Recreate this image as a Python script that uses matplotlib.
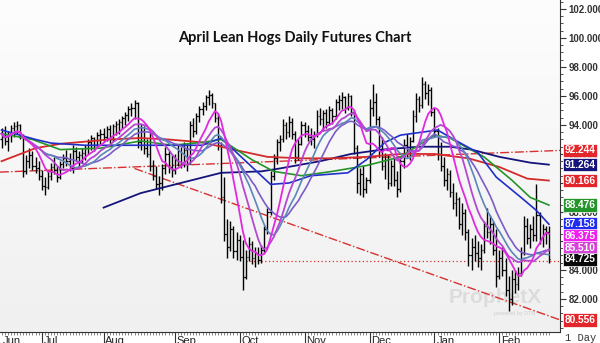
import numpy as np
import pandas as pd
import matplotlib
matplotlib.use("Agg")
import matplotlib.pyplot as plt
import matplotlib.transforms as mtransforms

# daily OHLC bars, one entry per trading day
opens = [93.0, 93.4, 92.9, 93.3, 93.8, 93.9, 94.0, 93.2, 90.8, 91.5, 91.9, 91.2, 91.0, 90.5, 89.8,
         89.7, 90.5, 91.1, 90.9, 90.4, 91.3, 91.7, 91.5, 91.0, 92.2, 91.8, 91.9, 92.1, 92.4, 92.8,
         93.1, 92.6, 93.3, 93.4, 93.2, 93.7, 93.0, 93.9, 94.1, 94.2, 94.5, 94.7, 95.1, 95.2, 95.5,
         92.8, 93.6, 92.4, 92.0, 91.2, 90.5, 89.9, 90.0, 91.0, 92.0, 91.1, 90.9, 91.6, 92.2, 91.4,
         92.3, 91.3, 94.0, 93.6, 94.6, 95.1, 95.3, 95.9, 96.1, 95.5, 94.5, 92.6, 89.0, 86.5, 85.6,
         86.8, 85.3, 86.1, 84.9, 83.5, 84.9, 85.8, 84.8, 85.2, 84.7, 85.4, 86.8, 88.0, 90.5, 91.7,
         92.8, 93.0, 94.0, 93.5, 94.2, 93.4, 91.8, 92.7, 94.0, 93.6, 93.2, 93.0, 93.3, 94.6, 94.4,
         94.8, 94.2, 95.0, 94.6, 95.6, 95.7, 95.9, 95.2, 96.0, 94.9, 92.4, 90.0, 90.6, 89.6, 90.2,
         95.2, 95.6, 94.4, 92.3, 91.2, 91.6, 90.0, 91.2, 90.2, 89.6, 91.5, 92.6, 92.2, 92.9, 94.6,
         95.8, 95.4, 96.8, 96.2, 96.4, 94.9, 93.6, 92.0, 91.2, 90.2, 90.6, 89.4, 88.6, 88.9, 87.2,
         87.9, 86.6, 85.0, 85.6, 85.2, 84.8, 85.4, 87.0, 86.6, 87.2, 85.4, 83.6, 84.8, 84.0, 82.6,
         82.0, 83.4, 83.0, 83.8, 85.2, 87.0, 86.2, 86.8, 86.4, 87.8, 86.2, 86.8, 86.6]
highs = [93.8, 93.9, 93.6, 94.0, 94.2, 94.3, 94.1, 93.4, 91.9, 92.4, 92.2, 91.8, 91.5, 90.9, 90.4,
         90.8, 91.4, 91.8, 91.2, 91.5, 92.0, 92.3, 92.1, 92.6, 92.5, 92.2, 92.4, 92.6, 93.0, 93.3,
         93.2, 93.5, 93.7, 93.8, 93.9, 94.0, 94.1, 94.3, 94.4, 94.6, 94.9, 95.3, 95.5, 95.7, 95.6,
         94.1, 93.9, 93.0, 93.5, 91.6, 91.2, 90.5, 91.3, 92.5, 92.2, 91.9, 92.0, 92.6, 92.5, 92.8,
         92.7, 94.3, 94.5, 94.8, 95.3, 95.6, 96.1, 96.4, 96.2, 95.5, 94.8, 92.8, 90.4, 87.5, 87.4,
         87.0, 86.6, 86.4, 86.1, 85.4, 86.3, 86.0, 85.6, 85.6, 85.7, 87.0, 88.3, 90.8, 92.0, 93.0,
         93.3, 94.4, 94.2, 94.6, 94.5, 93.6, 93.0, 94.3, 94.2, 94.0, 93.8, 93.6, 95.0, 95.2, 95.0,
         95.1, 95.3, 95.2, 95.8, 96.1, 96.3, 96.0, 96.2, 96.1, 95.0, 92.6, 91.0, 91.2, 90.4, 95.8,
         96.8, 96.2, 94.6, 93.2, 92.1, 91.9, 91.6, 91.8, 90.8, 91.8, 93.0, 93.4, 93.2, 95.0, 96.2,
         96.0, 97.3, 97.0, 96.8, 96.6, 95.2, 93.8, 92.8, 91.8, 91.0, 90.9, 90.0, 89.4, 89.0, 88.6,
         88.2, 86.8, 86.2, 86.4, 86.0, 85.8, 87.4, 88.3, 87.8, 87.4, 86.8, 85.4, 85.6, 84.8, 83.6,
         84.0, 84.0, 84.2, 85.6, 87.7, 87.6, 87.2, 87.7, 89.9, 88.0, 87.2, 87.0, 87.0]
lows = [92.4, 92.6, 92.2, 92.8, 93.2, 93.4, 93.0, 90.4, 90.6, 91.0, 90.9, 90.7, 90.2, 89.5, 89.2,
        89.6, 90.2, 90.6, 90.1, 90.3, 91.0, 91.2, 90.8, 90.7, 91.5, 91.2, 91.4, 91.6, 92.0, 92.3,
        92.2, 92.5, 92.7, 92.8, 92.9, 92.6, 92.9, 93.3, 93.4, 93.7, 94.0, 94.3, 94.6, 94.4, 92.4,
        92.3, 92.0, 91.8, 90.8, 90.2, 89.6, 89.2, 89.5, 90.6, 90.7, 90.4, 90.6, 91.2, 91.0, 91.1,
        90.8, 91.3, 93.2, 93.4, 94.2, 94.7, 95.0, 95.4, 95.2, 94.2, 92.3, 88.6, 86.0, 84.8, 85.3,
        84.8, 84.7, 84.6, 82.6, 83.4, 84.6, 84.4, 84.2, 84.4, 84.5, 85.2, 86.5, 87.8, 90.2, 91.3,
        92.2, 92.8, 93.0, 93.2, 93.0, 91.4, 91.6, 92.6, 93.2, 92.9, 92.6, 92.4, 93.2, 94.0, 93.6,
        93.8, 94.0, 94.1, 94.4, 95.0, 95.1, 94.8, 95.0, 94.6, 92.0, 89.3, 89.2, 89.0, 89.3, 90.0,
        94.6, 94.0, 91.8, 90.9, 90.3, 89.6, 89.8, 89.8, 89.0, 89.4, 91.0, 91.8, 91.6, 92.8, 94.2,
        94.9, 95.2, 95.8, 95.4, 94.6, 93.2, 91.6, 90.8, 89.8, 89.5, 89.0, 88.2, 87.7, 86.8, 86.4,
        86.1, 84.3, 84.0, 84.6, 84.2, 84.0, 85.2, 86.2, 85.8, 85.0, 82.8, 83.4, 83.6, 82.2, 81.2,
        81.6, 82.4, 82.6, 83.6, 85.0, 85.8, 85.5, 86.0, 86.0, 85.8, 85.6, 85.8, 84.5]
closes = [93.4, 92.9, 93.3, 93.8, 93.9, 94.0, 93.2, 90.8, 91.5, 91.9, 91.2, 91.0, 90.5, 89.8, 89.7,
          90.5, 91.1, 90.9, 90.4, 91.3, 91.7, 91.5, 91.0, 92.2, 91.8, 91.9, 92.1, 92.4, 92.8, 93.1,
          92.6, 93.3, 93.4, 93.2, 93.7, 93.0, 93.9, 94.1, 94.2, 94.5, 94.7, 95.1, 95.2, 95.5, 92.8,
          93.6, 92.4, 92.0, 91.2, 90.5, 89.9, 90.0, 91.0, 92.0, 91.1, 90.9, 91.6, 92.2, 91.4, 92.3,
          91.3, 94.0, 93.6, 94.6, 95.1, 95.3, 95.9, 96.1, 95.5, 94.5, 92.6, 89.0, 86.5, 85.6, 86.8,
          85.3, 86.1, 84.9, 83.5, 84.9, 85.8, 84.8, 85.2, 84.7, 85.4, 86.8, 88.0, 90.5, 91.7, 92.8,
          93.0, 94.0, 93.5, 94.2, 93.4, 91.8, 92.7, 94.0, 93.6, 93.2, 93.0, 93.3, 94.6, 94.4, 94.8,
          94.2, 95.0, 94.6, 95.6, 95.7, 95.9, 95.2, 96.0, 94.9, 92.4, 90.0, 90.6, 89.6, 90.2, 95.2,
          95.6, 94.4, 92.3, 91.2, 91.6, 90.0, 91.2, 90.2, 89.6, 91.5, 92.6, 92.2, 92.9, 94.6, 95.8,
          95.4, 96.8, 96.2, 96.4, 94.9, 93.6, 92.0, 91.2, 90.2, 90.6, 89.4, 88.6, 88.9, 87.2, 87.9,
          86.6, 85.0, 85.6, 85.2, 84.8, 85.4, 87.0, 86.6, 87.2, 85.4, 83.6, 84.8, 84.0, 82.6, 82.0,
          83.4, 83.0, 83.8, 85.2, 87.0, 86.2, 86.8, 86.4, 87.8, 86.2, 86.8, 86.6, 84.725]

# slow averages (they reach back before the chart), read at sample bars
navy_x = [33, 45, 58, 71, 84, 90, 103, 113, 123, 135, 145, 152, 161, 171, 177]
navy_y = [88.3, 89.3, 90.0, 90.7, 90.8, 91.0, 91.5, 92.0, 92.3, 92.5, 92.5, 92.3, 91.8, 91.4, 91.264]
red_x = [0, 11, 19, 35, 45, 54, 65, 75, 86, 97, 107, 118, 129, 140, 151, 161, 170, 177]
red_y = [91.5, 92.4, 92.7, 93.0, 93.1, 93.0, 92.8, 92.3, 91.8, 91.7, 91.7, 91.8, 92.0, 92.0, 91.7,
         91.1, 90.3, 90.166]
green_x = [0, 10, 19, 32, 45, 55, 65, 71, 81, 88, 97, 107, 118, 129, 140, 145, 156, 165, 171, 177]
green_y = [93.4, 93.0, 92.3, 92.4, 92.9, 92.6, 92.8, 93.0, 91.6, 90.8, 90.5, 90.8, 91.2, 91.8, 93.3,
           93.1, 91.8, 90.2, 89.0, 88.476]
blue_x = [0, 11, 16, 27, 45, 65, 71, 81, 87, 93, 100, 112, 118, 124, 129, 141, 148, 154, 160, 168,
          173, 177]
blue_y = [93.65, 93.0, 92.75, 92.6, 92.6, 92.6, 93.1, 91.1, 89.9, 90.0, 90.5, 90.7, 91.6, 92.8, 93.3,
          93.65, 92.8, 92.1, 90.4, 89.0, 88.1, 87.158]

# trend lines and support
trend_up_x = [-0.5, 180.6]
trend_up_y = [90.75, 92.244]
trend_dn_x = [43, 180.6]
trend_dn_y = [91.0, 80.556]
support_x = [79, 180.6]
support_y = [84.6, 84.6]

months = ["Jun", "Jul", "Aug", "Sep", "Oct", "Nov", "Dec", "Jan", "Feb"]
month_idx = [-8, 13, 33, 56, 77, 98, 119, 140, 161]

# right-hand value tags
tag_vals = [92.244, 91.264, 90.166, 88.476, 87.158, 86.375, 85.510, 84.725, 80.556]
tag_cols = ["#e3262b", "#14147a", "#e3262b", "#23952a", "#1e2cf0", "#f020f0", "#d842d8",
            "#0a0a0a", "#e3262b"]

idx = np.arange(len(closes))
s = pd.Series(closes)
ma9 = s.rolling(9, min_periods=1).mean()
ma14 = s.rolling(14, min_periods=1).mean()
ma18 = s.rolling(18, min_periods=1).mean()
ma22 = s.rolling(22, min_periods=1).mean()

fig = plt.figure(figsize=(6, 3.43), dpi=100)
fig.patch.set_facecolor("white")
ax = fig.add_axes([0, 11 / 343, 560 / 600, 332 / 343])

# soft grey background
grad = np.linspace(1.0, 0.0, 256).reshape(-1, 1)
ax.imshow(grad, extent=[0, 1, 0, 1], transform=ax.transAxes, aspect="auto",
          cmap=matplotlib.colors.LinearSegmentedColormap.from_list("bg", ["#f0f0f0", "#fdfdfd"]),
          zorder=0)

# bars
ax.vlines(idx, lows, highs, color="black", lw=1.0, zorder=3)
ax.hlines(opens, idx - 0.45, idx, color="black", lw=0.9, zorder=3)
ax.hlines(closes, idx, idx + 0.45, color="black", lw=0.9, zorder=3)

# averages
ax.plot(navy_x, navy_y, color="#14147a", lw=1.3, zorder=4)
ax.plot(red_x, red_y, color="#d42a2a", lw=1.3, zorder=4)
ax.plot(green_x, green_y, color="#23952a", lw=1.2, zorder=4)
ax.plot(blue_x, blue_y, color="#2030c8", lw=1.2, zorder=4)
ax.plot(idx, ma22, color="#7a5cc8", lw=1.2, zorder=4)
ax.plot(idx, ma18, color="#5b86b8", lw=1.2, zorder=4)
ax.plot(idx, ma14, color="#b448d0", lw=1.3, zorder=4)
ax.plot(idx, ma9, color="#e02ae0", lw=1.3, zorder=4)

ax.plot(trend_up_x, trend_up_y, color="#d83030", lw=1.0, ls="-.", zorder=2)
ax.plot(trend_dn_x, trend_dn_y, color="#d83030", lw=1.0, ls="-.", zorder=2)
ax.plot(support_x, support_y, color="#d83030", lw=0.9, ls=(0, (1, 2)), zorder=2)

ax.set_xlim(-0.5, 180.6)
ax.set_ylim(79.72, 102.62)

# axes styling
for side in ["left", "top"]:
    ax.spines[side].set_visible(False)
ax.spines["right"].set_color("#333333")
ax.spines["bottom"].set_color("#333333")
ax.yaxis.tick_right()
ax.set_yticks(np.arange(82, 103, 2))
ax.set_yticklabels(["%.3f" % v for v in np.arange(82, 103, 2)])
ax.set_yticks(np.arange(80, 103, 0.5), minor=True)
ax.tick_params(axis="y", which="major", length=4, width=0.8, colors="#333333",
               labelsize=7, pad=2)
ax.tick_params(axis="y", which="minor", length=2, width=0.6, colors="#333333")
for t in ax.get_yticklabels():
    t.set_fontfamily("Liberation Sans")
    t.set_fontweight("bold")

ax.set_xticks(month_idx[1:])
ax.set_xticklabels([])
ax.set_xticks(idx, minor=True)
ax.tick_params(axis="x", which="major", length=14, width=0.8, colors="#333333")
ax.tick_params(axis="x", which="minor", length=2, width=0.5, colors="#555555")

tr_x = mtransforms.blended_transform_factory(ax.transData, ax.transAxes)
for m, i in zip(months, month_idx):
    xi = max(i, -0.2)
    ax.text(xi + 0.6, -0.012, m, transform=tr_x, ha="left", va="top", fontsize=8,
            family="Liberation Sans", color="#222222", clip_on=False)

tr_y = mtransforms.blended_transform_factory(ax.transAxes, ax.transData)
for v, c in zip(tag_vals, tag_cols):
    ax.text(1.008, v, "%.3f" % v, transform=tr_y, ha="left", va="center", fontsize=7.3,
            family="Liberation Sans", fontweight="bold", color="white", zorder=10,
            clip_on=False,
            bbox=dict(boxstyle="square,pad=0.18", fc=c, ec="white", lw=0.5))

fig.text(565 / 600, 1 - 338 / 343, "1 Day", ha="left", va="center", fontsize=7.5,
         family="Liberation Mono", color="#333333")

# watermark
ax.text(0.885, 0.105, "ProphetX", transform=ax.transAxes, ha="center", va="center",
        fontsize=15, fontweight="bold", color="#dcdcdc", family="Liberation Sans", zorder=1)
ax.text(0.92, 0.055, "powered by DTN", transform=ax.transAxes, ha="center", va="center",
        fontsize=4, color="#cfcfcf", family="Liberation Sans", zorder=1)

fig.text(0.492, 1 - 38 / 343, "April Lean Hogs Daily Futures Chart", ha="center",
         va="center", fontsize=10.5, fontweight="bold", family="Lato", color="#111111")

fig.savefig("out.png", dpi=100)
